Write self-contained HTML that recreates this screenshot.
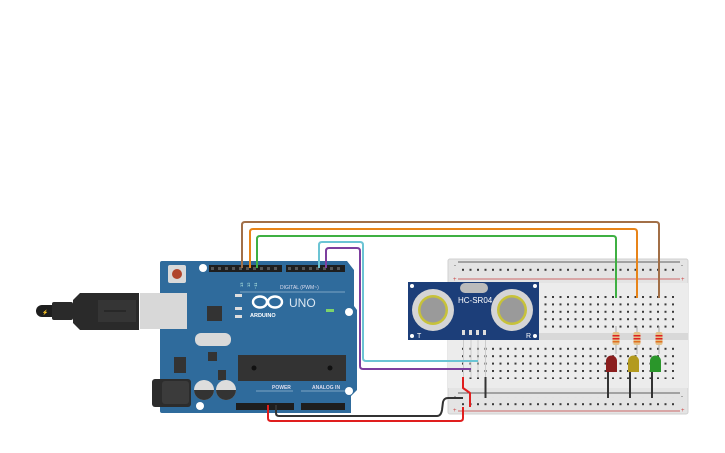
<!DOCTYPE html>
<html><head><meta charset="utf-8"><style>
html,body{margin:0;padding:0;background:#fff;}
svg{display:block;font-family:"Liberation Sans",sans-serif;}
</style></head><body>
<svg width="725" height="453" viewBox="0 0 725 453" xmlns="http://www.w3.org/2000/svg">
<defs>
<pattern id="h" x="462" y="0" width="7.5" height="7.4" patternUnits="userSpaceOnUse"><rect x="0" y="0" width="2" height="2" fill="#3a3a3a"/></pattern>
<pattern id="r" x="462" y="0" width="7.5" height="8.4" patternUnits="userSpaceOnUse"><rect x="0" y="0" width="2" height="2" fill="#3a3a3a"/></pattern>
</defs>

<!-- breadboard -->
<rect x="448" y="259" width="240" height="155" rx="2" fill="#e4e4e4" stroke="#d0d0d0"/>
<rect x="448" y="283" width="240" height="105" fill="#ececec"/>
<rect x="448" y="333" width="240" height="7" fill="#d8d8d8"/>
<line x1="458" y1="262" x2="680" y2="262" stroke="#333" stroke-width="0.8"/>
<line x1="458" y1="279" x2="680" y2="279" stroke="#d08080" stroke-width="1.2"/>
<line x1="458" y1="393" x2="680" y2="393" stroke="#333" stroke-width="0.8"/>
<line x1="458" y1="411" x2="680" y2="411" stroke="#d08080" stroke-width="1.2"/>
<text x="454" y="267" font-size="6" fill="#444">-</text>
<text x="453" y="281" font-size="6" fill="#c44">+</text>
<text x="681" y="267" font-size="6" fill="#444">-</text>
<text x="681" y="281" font-size="6" fill="#c44">+</text>
<text x="454" y="398" font-size="6" fill="#444">-</text>
<text x="453" y="412" font-size="6" fill="#c44">+</text>
<text x="681" y="398" font-size="6" fill="#444">-</text>
<text x="681" y="412" font-size="6" fill="#c44">+</text>
<rect x="462" y="266" width="216" height="11" fill="url(#r)"/>
<rect x="462" y="397" width="216" height="12" fill="url(#r)"/>
<rect x="462" y="296" width="216" height="33" fill="url(#h)"/>
<rect x="462" y="346" width="216" height="33" fill="url(#h)"/>

<!-- Arduino board -->
<path d="M160 263 Q160 261 162 261 L347 261 L354 270 L354 306 L357 310 L357 390 L351 396 L351 413 L162 413 Q160 413 160 411 Z" fill="#2f6b9c"/>
<rect x="209" y="265" width="73" height="7" fill="#1e1e1e"/>
<rect x="286" y="265" width="59" height="7" fill="#1e1e1e"/>
<rect x="236" y="403" width="58" height="7" fill="#1e1e1e"/>
<rect x="301" y="403" width="44" height="7" fill="#1e1e1e"/>
<g fill="#555">
<rect x="211" y="267" width="3" height="3"/><rect x="218" y="267" width="3" height="3"/><rect x="225" y="267" width="3" height="3"/><rect x="232" y="267" width="3" height="3"/><rect x="239" y="267" width="3" height="3"/><rect x="246" y="267" width="3" height="3"/><rect x="253" y="267" width="3" height="3"/><rect x="260" y="267" width="3" height="3"/><rect x="267" y="267" width="3" height="3"/><rect x="274" y="267" width="3" height="3"/>
<rect x="288" y="267" width="3" height="3"/><rect x="295" y="267" width="3" height="3"/><rect x="302" y="267" width="3" height="3"/><rect x="309" y="267" width="3" height="3"/><rect x="316" y="267" width="3" height="3"/><rect x="323" y="267" width="3" height="3"/><rect x="330" y="267" width="3" height="3"/><rect x="337" y="267" width="3" height="3"/>
</g>
<text x="243" y="287" font-size="4" fill="#cfe" transform="rotate(-90 243 287)">13</text>
<text x="250" y="287" font-size="4" fill="#cfe" transform="rotate(-90 250 287)">12</text>
<text x="257" y="289" font-size="4" fill="#cfe" transform="rotate(-90 257 289)">~11</text>
<text x="280" y="289" font-size="5" fill="#dde">DIGITAL (PWM~)</text>
<line x1="240" y1="292" x2="345" y2="292" stroke="#cde" stroke-width="0.6"/>
<ellipse cx="260" cy="302" rx="7" ry="5.5" fill="none" stroke="#fff" stroke-width="2.4"/>
<ellipse cx="275" cy="302" rx="7" ry="5.5" fill="none" stroke="#fff" stroke-width="2.4"/>
<text x="250" y="317" font-size="5.5" font-weight="bold" fill="#fff">ARDUINO</text>
<text x="289" y="307" font-size="12" fill="#dbe7f2">UNO</text>
<rect x="326" y="309" width="8" height="3" fill="#7dd36a"/>
<rect x="168" y="265" width="18" height="18" rx="2" fill="#d9d9d9"/>
<circle cx="177" cy="274" r="5" fill="#b0452c"/>
<circle cx="203" cy="268" r="4" fill="#fff"/>
<circle cx="349" cy="312" r="4" fill="#fff"/>
<circle cx="349" cy="391" r="4" fill="#fff"/>
<circle cx="200" cy="406" r="4" fill="#fff"/>
<rect x="235" y="294" width="7" height="3" fill="#ddd"/>
<rect x="235" y="307" width="7" height="3" fill="#ddd"/>
<rect x="235" y="315" width="7" height="3" fill="#ddd"/>
<rect x="207" y="306" width="15" height="15" fill="#333"/>
<rect x="195" y="333" width="36" height="13" rx="6" fill="#d9d9d9"/>
<rect x="208" y="352" width="9" height="9" fill="#333"/>
<rect x="238" y="355" width="108" height="26" fill="#333"/>
<circle cx="254" cy="368" r="2.5" fill="#111"/><circle cx="330" cy="368" r="2.5" fill="#111"/>
<rect x="174" y="357" width="12" height="16" fill="#333"/>
<rect x="218" y="370" width="8" height="10" fill="#333"/>
<circle cx="204" cy="390" r="10" fill="#ddd"/><path d="M194 390 A10 10 0 0 0 214 390 Z" fill="#333"/>
<circle cx="226" cy="390" r="10" fill="#ddd"/><path d="M216 390 A10 10 0 0 0 236 390 Z" fill="#333"/>
<text x="272" y="389" font-size="5" font-weight="bold" fill="#dde">POWER</text>
<text x="312" y="389" font-size="5" font-weight="bold" fill="#dde">ANALOG IN</text>
<line x1="256" y1="391" x2="293" y2="391" stroke="#cde" stroke-width="0.6"/>
<line x1="301" y1="391" x2="345" y2="391" stroke="#cde" stroke-width="0.6"/>
<rect x="152" y="379" width="39" height="28" rx="3" fill="#2c2c2c"/>
<rect x="162" y="381" width="27" height="23" rx="3" fill="#3b3b3b"/>

<!-- USB -->
<rect x="140" y="293" width="47" height="36" fill="#d8d8d8"/>
<path d="M80 293 L139 293 L139 330 L80 330 L73 323 L73 300 Z" fill="#2a2a2a"/>
<rect x="98" y="300" width="38" height="22" fill="#353535"/>
<rect x="52" y="302" width="21" height="18" rx="2" fill="#2a2a2a"/>
<path d="M52 305 L42 305 A6 6 0 0 0 42 317 L52 317 Z" fill="#1e1e1e"/>
<text x="42" y="314" font-size="5" fill="#e8c020">⚡</text>
<line x1="104" y1="311" x2="126" y2="311" stroke="#222" stroke-width="1.2"/>

<!-- sensor -->
<rect x="408" y="282" width="131" height="58" fill="#1c3e79"/>
<circle cx="412" cy="286" r="2" fill="#fff"/><circle cx="535" cy="286" r="2" fill="#fff"/>
<circle cx="412" cy="336" r="2" fill="#fff"/><circle cx="535" cy="336" r="2" fill="#fff"/>
<rect x="460" y="283" width="28" height="10" rx="5" fill="#bbb"/>
<circle cx="433" cy="310" r="21" fill="#d5d5d5"/><circle cx="433" cy="310" r="15" fill="#c7c23a"/><circle cx="433" cy="310" r="12.5" fill="#9a9a9a"/>
<circle cx="512" cy="310" r="21" fill="#d5d5d5"/><circle cx="512" cy="310" r="15" fill="#c7c23a"/><circle cx="512" cy="310" r="12.5" fill="#9a9a9a"/>
<text x="458" y="303" font-size="8" fill="#fff">HC-SR04</text>
<text x="417" y="338" font-size="7" fill="#fff">T</text>
<text x="526" y="338" font-size="7" fill="#fff">R</text>
<g fill="#ddd"><rect x="462" y="330" width="3" height="5"/><rect x="469" y="330" width="3" height="5"/><rect x="476" y="330" width="3" height="5"/><rect x="483" y="330" width="3" height="5"/></g>
<g stroke="#ccc" stroke-width="1"><line x1="463.5" y1="340" x2="463.5" y2="377"/><line x1="471" y1="340" x2="471" y2="377"/><line x1="478" y1="340" x2="478" y2="377"/><line x1="485.5" y1="340" x2="485.5" y2="377"/></g>

<!-- wires -->
<g fill="none" stroke-width="2" stroke-linejoin="round">
<path d="M242 268 L242 225 Q242 222 245 222 L656 222 Q659 222 659 225 L659 298" stroke="#a26f47"/>
<path d="M250 268 L250 232 Q250 229 253 229 L634 229 Q637 229 637 232 L637 298" stroke="#e88419"/>
<path d="M257 268 L257 239 Q257 236 260 236 L613 236 Q616 236 616 239 L616 298" stroke="#3fb043"/>
<path d="M319 268 L319 245 Q319 242 322 242 L360 242 Q363 242 363 245 L363 358 Q363 361 366 361 L478 361" stroke="#6cc4d4"/>
<path d="M326 268 L326 251 Q326 248 329 248 L357 248 Q360 248 360 251 L360 366 Q360 369 363 369 L471 369" stroke="#7d3f9f"/>
<path d="M276 405 L276 413 Q276 416 279 416 L437 416 Q441 416 442 410 L443 402 Q444 398 448 398 L463 398" stroke="#333"/>
<path d="M268 405 L268 418 Q268 421 271 421 L460 421 Q463 421 463 418 L463 407" stroke="#e01e1e"/>
<path d="M463 377 L463 388 L470 393 L470 407" stroke="#e01e1e"/>
<line x1="485.5" y1="377" x2="485.5" y2="398" stroke="#333"/>
<line x1="608" y1="370" x2="608" y2="398" stroke="#333"/>
<line x1="630" y1="370" x2="630" y2="398" stroke="#333"/>
<line x1="652" y1="370" x2="652" y2="398" stroke="#333"/>
</g>
<g>
<line x1="616" y1="326" x2="616" y2="354" stroke="#aaa"/>
<rect x="612.5" y="332" width="7" height="13" rx="2" fill="#e3c088"/>
<rect x="612.5" y="335" width="7" height="1.5" fill="#d22"/><rect x="612.5" y="338" width="7" height="1.5" fill="#d22"/><rect x="612.5" y="341" width="7" height="1.5" fill="#e07020"/>
<line x1="637" y1="326" x2="637" y2="354" stroke="#aaa"/>
<rect x="633.5" y="332" width="7" height="13" rx="2" fill="#e3c088"/>
<rect x="633.5" y="335" width="7" height="1.5" fill="#d22"/><rect x="633.5" y="338" width="7" height="1.5" fill="#d22"/><rect x="633.5" y="341" width="7" height="1.5" fill="#e07020"/>
<line x1="659" y1="326" x2="659" y2="354" stroke="#aaa"/>
<rect x="655.5" y="332" width="7" height="13" rx="2" fill="#e3c088"/>
<rect x="655.5" y="335" width="7" height="1.5" fill="#d22"/><rect x="655.5" y="338" width="7" height="1.5" fill="#d22"/><rect x="655.5" y="341" width="7" height="1.5" fill="#e07020"/>
</g>
<path d="M606 372 L606 361 A5.5 5.5 0 0 1 617 361 L617 372 Z" fill="#8b1e1e"/>
<path d="M628 372 L628 361 A5.5 5.5 0 0 1 639 361 L639 372 Z" fill="#b39a1e"/>
<path d="M650 372 L650 361 A5.5 5.5 0 0 1 661 361 L661 372 Z" fill="#2a962a"/>
</svg>
</body></html>
